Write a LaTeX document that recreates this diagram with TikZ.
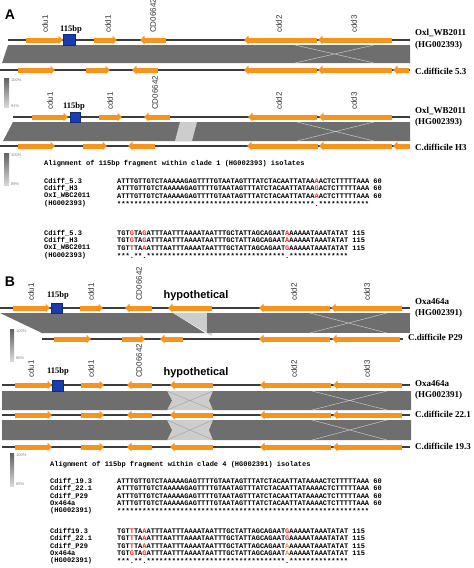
\documentclass[tikz,border=0pt]{standalone}
\usepackage{fontspec}
\setmainfont{Liberation Serif}
\setsansfont{Liberation Sans}
\setmonofont{Liberation Mono}
\usetikzlibrary{arrows.meta}

\definecolor{geneorange}{RGB}{247,148,30}
\definecolor{bandgray}{RGB}{110,110,110}
\definecolor{gaplight}{RGB}{205,205,205}
\definecolor{boxblue}{RGB}{26,60,172}
\definecolor{snpred}{RGB}{232,40,40}
\definecolor{snporange}{RGB}{240,140,70}
\definecolor{genomeline}{RGB}{60,60,60}

\newcommand{\snp}[1]{\textcolor{snpred}{#1}}
\newcommand{\snpo}[1]{\textcolor{snporange}{#1}}

\begin{document}
\begin{tikzpicture}[x=1pt,y=-1pt,
  every node/.style={inner sep=0pt},
  gene/.style={draw=geneorange,line width=5pt,
    -{Triangle[width=8.5pt,length=4.5pt,fill=geneorange]}},
  fragbox/.style={fill=boxblue,draw=boxblue!70!black,line width=0.4pt},
  genome/.style={draw=genomeline,line width=1.1pt},
  crossline/.style={draw=gray!45,line width=0.5pt},
  glabel/.style={rotate=90,anchor=west,font=\sffamily\fontsize{8}{8}\selectfont,text=black!80},
  fraglabel/.style={font=\bfseries\fontsize{8.5}{8.5}\selectfont},
  hypolabel/.style={font=\sffamily\bfseries\fontsize{11}{11}\selectfont},
  strain/.style={anchor=west,font=\bfseries\fontsize{9}{9}\selectfont},
  panel/.style={font=\sffamily\bfseries\fontsize{14}{14}\selectfont},
  seq/.style={anchor=west,font=\ttfamily\bfseries\fontsize{7}{7}\selectfont},
  pct/.style={anchor=west,font=\sffamily\fontsize{4}{4}\selectfont,text=gray}]
  \useasboundingbox (0,0) rectangle (474,568);

  % ---------------- Panel A ----------------
  \node[panel] (pA) at (10,15) {A};

  % Gray bands between genomes
  \fill[bandgray] (8,45) -- (410,45) -- (410,63) -- (2,63) -- cycle;
  \draw[crossline] (295,45) -- (374,63) (374,45) -- (295,63);
  \fill[bandgray] (13,122) -- (410,122) -- (410,141) -- (3,141) -- cycle;
  \fill[gaplight] (180,122) -- (197,122) -- (192,141) -- (175,141) -- cycle;
  \draw[crossline] (297,122) -- (374,141) (374,122) -- (297,141);

  % Genome lines
  \draw[genome] (8,40) -- (410,40);
  \draw[genome] (0,70) -- (410,70);
  \draw[genome] (13,117) -- (410,117);
  \draw[genome] (0,146) -- (410,146);

  % Top row: Oxl_WB2011
  \draw[gene] (26,40) -- (63,40);
  \node[fragbox,minimum width=12pt,minimum height=11pt] (a1frag) at (69,40) {};
  \draw[gene] (94,40) -- (117,40);
  \draw[gene] (166,40) -- (140,40);
  \draw[gene] (317,40) -- (244,40);
  \draw[gene] (392,40) -- (318,40);

  \node[glabel] (a1lcdu) at (45,33) {cdu1};
  \node[fraglabel] (a1lfrag) at (71,29) {115bp};
  \node[glabel] (a1lcdd1) at (108,33) {cdd1};
  \node[glabel] (a1lcd) at (153,33) {CD06642};
  \node[glabel] (a1lcdd2) at (279,33) {cdd2};
  \node[glabel] (a1lcdd3) at (354,33) {cdd3};

  \node[strain] (a1name) at (415,33) {Oxl\_WB2011};
  \node[strain] (a1acc) at (415,45) {(HG002393)};

  % Second row: C.difficile 5.3
  \draw[gene] (18,70) -- (55,70);
  \draw[gene] (86,70) -- (110,70);
  \draw[gene] (158,70) -- (132,70);
  \draw[gene] (317,70) -- (244,70);
  \draw[gene] (392,70) -- (318,70);
  \draw[gene] (409,70) -- (393,70);
  \node[strain] (a2name) at (415,71) {C.difficile 5.3};

  % Identity scale
  \shade[top color=black!62,bottom color=black!15] (4,78) rectangle (9,107);
  \node[pct] (a1top) at (11,80) {100\%};
  \node[pct] (a1bot) at (11,106) {91\%};

  % Third row: Oxl_WB2011 again
  \draw[gene] (32,117) -- (68,117);
  \node[fragbox,minimum width=10pt,minimum height=10pt] (a3frag) at (75,117) {};
  \draw[gene] (99,117) -- (122,117);
  \draw[gene] (170,117) -- (144,117);
  \draw[gene] (317,117) -- (248,117);
  \draw[gene] (392,117) -- (319,117);

  \node[glabel] (a3lcdu) at (50,110) {cdu1};
  \node[fraglabel] (a3lfrag) at (74,106) {115bp};
  \node[glabel] (a3lcdd1) at (110,110) {cdd1};
  \node[glabel] (a3lcd) at (155,110) {CD06642};
  \node[glabel] (a3lcdd2) at (279,110) {cdd2};
  \node[glabel] (a3lcdd3) at (354,110) {cdd3};

  \node[strain] (a3name) at (415,111) {Oxl\_WB2011};
  \node[strain] (a3acc) at (415,122) {(HG002393)};

  % Fourth row: C.difficile H3
  \draw[gene] (18,146) -- (55,146);
  \draw[gene] (83,146) -- (107,146);
  \draw[gene] (155,146) -- (128,146);
  \draw[gene] (318,146) -- (247,146);
  \draw[gene] (392,146) -- (319,146);
  \draw[gene] (410,146) -- (393,146);
  \node[strain] (a4name) at (415,147) {C.difficile H3};

  % Identity scale
  \shade[top color=black!62,bottom color=black!15] (4,153) rectangle (9,185);
  \node[pct] (a2top) at (11,155) {100\%};
  \node[pct] (a2bot) at (11,184) {89\%};

  % Alignment of clade 1
  \node[seq] (atitle) at (44,164) {Alignment of 115bp fragment within clade 1 (HG002393) isolates};

  \node[seq] (an1) at (44,181) {Cdiff\_5.3};
  \node[seq] (an2) at (44,188.5) {Cdiff\_H3};
  \node[seq] (an3) at (44,196) {OxI\_WBC2011};
  \node[seq] (an4) at (44,203.5) {(HG002393)};
  \node[seq] (as1) at (117,181) {ATTTGTTGTCTAAAAAGAGTTTTGTAATAGTTTATCTACAATTATAA\snp{A}ACTCTTTTTAAA 60};
  \node[seq] (as2) at (117,188.5) {ATTTGTTGTCTAAAAAGAGTTTTGTAATAGTTTATCTACAATTATAA\snp{G}ACTCTTTTTAAA 60};
  \node[seq] (as3) at (117,196) {ATTTGTTGTCTAAAAAGAGTTTTGTAATAGTTTATCTACAATTATAA\snp{A}ACTCTTTTTAAA 60};
  \node[seq] (as4) at (117,203.5) {***********************************************.************};

  \node[seq] (an5) at (44,233) {Cdiff\_5.3};
  \node[seq] (an6) at (44,240.5) {Cdiff\_H3};
  \node[seq] (an7) at (44,248) {OxI\_WBC2011};
  \node[seq] (an8) at (44,255.5) {(HG002393)};
  \node[seq] (as5) at (117,233) {TGT\snp{G}TA\snp{G}ATTTAATTTAAAATAATTTGCTATTAGCAGAAT\snp{A}AAAAATAAATATAT 115};
  \node[seq] (as6) at (117,240.5) {TGT\snp{G}TA\snp{G}ATTTAATTTAAAATAATTTGCTATTAGCAGAAT\snp{A}AAAAATAAATATAT 115};
  \node[seq] (as7) at (117,248) {TGT\snp{T}TA\snp{A}ATTTAATTTAAAATAATTTGCTATTAGCAGAAT\snp{G}AAAAATAAATATAT 115};
  \node[seq] (as8) at (117,255.5) {***.**.*********************************.**************};

  % ---------------- Panel B ----------------
  \node[panel] (pB) at (10,282) {B};

  % Band Oxa464a / P29
  \fill[bandgray] (0,313) -- (173,313) -- (205,333) -- (42,333) -- cycle;
  \fill[gaplight] (173,313) -- (207,313) -- (212,336) -- cycle;
  \fill[bandgray] (207,313) -- (410,313) -- (410,333) -- (207,333) -- cycle;
  \draw[crossline] (310,313) -- (387,333) (387,313) -- (310,333);

  % Band Oxa464a / 22.1
  \fill[gaplight] (167,391) -- (213,391) -- (209,400.5) -- (213,410) -- (167,410) -- (172,400.5) -- cycle;
  \draw[draw=gray!70,line width=0.5pt] (167,391) -- (213,410) (213,391) -- (167,410);
  \fill[bandgray] (2,391) -- (167,391) -- (172,400.5) -- (167,410) -- (2,410) -- cycle;
  \fill[bandgray] (213,391) -- (411,391) -- (411,410) -- (213,410) -- (209,400.5) -- cycle;
  \draw[crossline] (312,391) -- (387,410) (387,391) -- (312,410);

  % Band 22.1 / 19.3
  \fill[gaplight] (167,420) -- (213,420) -- (209,430) -- (213,440) -- (167,440) -- (172,430) -- cycle;
  \draw[draw=gray!70,line width=0.5pt] (167,420) -- (213,440) (213,420) -- (167,440);
  \fill[bandgray] (2,420) -- (167,420) -- (172,430) -- (167,440) -- (2,440) -- cycle;
  \fill[bandgray] (213,420) -- (411,420) -- (411,440) -- (213,440) -- (209,430) -- cycle;
  \draw[crossline] (312,420) -- (387,440) (387,420) -- (312,440);

  % Genome lines
  \draw[genome] (0,308) -- (410,308);
  \draw[genome] (42,339) -- (403,339);
  \draw[genome] (2,385) -- (410,385);
  \draw[genome] (2,415) -- (410,415);
  \draw[genome] (2,447) -- (410,447);

  % Top row: Oxa464a
  \draw[gene] (13,308) -- (50,308);
  \node[fragbox,minimum width=11pt,minimum height=10pt] (b1frag) at (56.5,308) {};
  \draw[gene] (80,308) -- (103,308);
  \draw[gene] (152,308) -- (125,308);
  \draw[gene] (212,308) -- (168,308);
  \draw[gene] (330,308) -- (259,308);
  \draw[gene] (402,308) -- (331,308);

  \node[glabel] (b1lcdu) at (31,301) {cdu1};
  \node[fraglabel] (b1lfrag) at (58,295) {115bp};
  \node[glabel] (b1lcdd1) at (91,301) {cdd1};
  \node[glabel] (b1lcd) at (139,301) {CD06642};
  \node[hypolabel] (b1lhyp) at (196,296) {hypothetical};
  \node[glabel] (b1lcdd2) at (294,301) {cdd2};
  \node[glabel] (b1lcdd3) at (367,301) {cdd3};

  \node[strain] (b1name) at (415,302) {Oxa464a};
  \node[strain] (b1acc) at (415,313) {(HG002391)};

  % Second row: C.difficile P29
  \draw[gene] (54,339) -- (91,339);
  \draw[gene] (122,339) -- (145,339);
  \draw[gene] (183,339) -- (160,339);
  \draw[gene] (330,339) -- (259,339);
  \draw[gene] (400,339) -- (332,339);
  \node[strain] (b2name) at (408,337) {C.difficile P29};

  % Identity scale
  \shade[top color=black!62,bottom color=black!15] (10,329) rectangle (14,361);
  \node[pct] (b1top) at (16,331) {100\%};
  \node[pct] (b1bot) at (16,358) {86\%};

  % Third row: Oxa464a again
  \draw[gene] (15,385) -- (52,385);
  \node[fragbox,minimum width=11pt,minimum height=11pt] (b3frag) at (57.5,385.5) {};
  \draw[gene] (81,385) -- (104,385);
  \draw[gene] (152,385) -- (127,385);
  \draw[gene] (213,385) -- (170,385);
  \draw[gene] (331,385) -- (260,385);
  \draw[gene] (402,385) -- (333,385);

  \node[glabel] (b3lcdu) at (31,378) {cdu1};
  \node[fraglabel] (b3lfrag) at (58,371) {115bp};
  \node[glabel] (b3lcdd1) at (91,378) {cdd1};
  \node[glabel] (b3lcd) at (139,378) {CD06642};
  \node[hypolabel] (b3lhyp) at (196,373) {hypothetical};
  \node[glabel] (b3lcdd2) at (294,378) {cdd2};
  \node[glabel] (b3lcdd3) at (367,378) {cdd3};

  \node[strain] (b3name) at (415,384) {Oxa464a};
  \node[strain] (b3acc) at (415,395) {(HG002391)};

  % Fourth row: C.difficile 22.1
  \draw[gene] (15,415) -- (52,415);
  \draw[gene] (81,415) -- (104,415);
  \draw[gene] (152,415) -- (127,415);
  \draw[gene] (213,415) -- (170,415);
  \draw[gene] (331,415) -- (260,415);
  \draw[gene] (402,415) -- (333,415);
  \node[strain] (b4name) at (415,414) {C.difficile 22.1};

  % Fifth row: C.difficile 19.3
  \draw[gene] (15,447) -- (52,447);
  \draw[gene] (81,447) -- (104,447);
  \draw[gene] (152,447) -- (127,447);
  \draw[gene] (213,447) -- (170,447);
  \draw[gene] (331,447) -- (260,447);
  \draw[gene] (402,447) -- (333,447);
  \node[strain] (b5name) at (415,446) {C.difficile 19.3};

  % Identity scale
  \shade[top color=black!62,bottom color=black!15] (10,453) rectangle (14,486);
  \node[pct] (b2top) at (16,455) {100\%};
  \node[pct] (b2bot) at (16,484) {85\%};

  % Alignment of clade 4
  \node[seq] (btitle) at (50,465) {Alignment of 115bp fragment within clade 4 (HG002391) isolates};

  \node[seq] (bn1) at (50,481) {Cdiff\_19.3};
  \node[seq] (bn2) at (50,488.5) {Cdiff\_22.1};
  \node[seq] (bn3) at (50,496) {Cdiff\_P29};
  \node[seq] (bn4) at (50,503.5) {Ox464a};
  \node[seq] (bn5) at (50,511) {(HG002391)};
  \node[seq] (bs1) at (117,481) {ATTTGTTGTCTAAAAAGAGTTTTGTAATAGTTTATCTACAATTATAAAACTCTTTTTAAA 60};
  \node[seq] (bs2) at (117,488.5) {ATTTGTTGTCTAAAAAGAGTTTTGTAATAGTTTATCTACAATTATAAAACTCTTTTTAAA 60};
  \node[seq] (bs3) at (117,496) {ATTTGTTGTCTAAAAAGAGTTTTGTAATAGTTTATCTACAATTATAAAACTCTTTTTAAA 60};
  \node[seq] (bs4) at (117,503.5) {ATTTGTTGTCTAAAAAGAGTTTTGTAATAGTTTATCTACAATTATAAAACTCTTTTTAAA 60};
  \node[seq] (bs5) at (117,511) {************************************************************};

  \node[seq] (bn6) at (50,531) {Cdiff19.3};
  \node[seq] (bn7) at (50,538.5) {Cdiff\_22.1};
  \node[seq] (bn8) at (50,546) {Cdiff\_P29};
  \node[seq] (bn9) at (50,553.5) {Ox464a};
  \node[seq] (bn10) at (50,561) {(HG002391)};
  \node[seq] (bs6) at (117,531) {TGT\snp{T}TA\snp{A}ATTTAATTTAAAATAATTTGCTATTAGCAGAAT\snp{G}AAAAATAAATATAT 115};
  \node[seq] (bs7) at (117,538.5) {TGT\snp{T}TA\snp{A}ATTTAATTTAAAATAATTTGCTATTAGCAGAAT\snp{G}AAAAATAAATATAT 115};
  \node[seq] (bs8) at (117,546) {TGT\snp{T}TA\snp{A}ATTTAATTTAAAATAATTTGCTATTAGCAGAAT\snpo{A}AAAAATAAATATAT 115};
  \node[seq] (bs9) at (117,553.5) {TGT\snp{G}TA\snp{G}ATTTAATTTAAAATAATTTGCTATTAGCAGAAT\snpo{A}AAAAATAAATATAT 115};
  \node[seq] (bs10) at (117,561) {***.**.*********************************.**************};
\end{tikzpicture}
\end{document}
